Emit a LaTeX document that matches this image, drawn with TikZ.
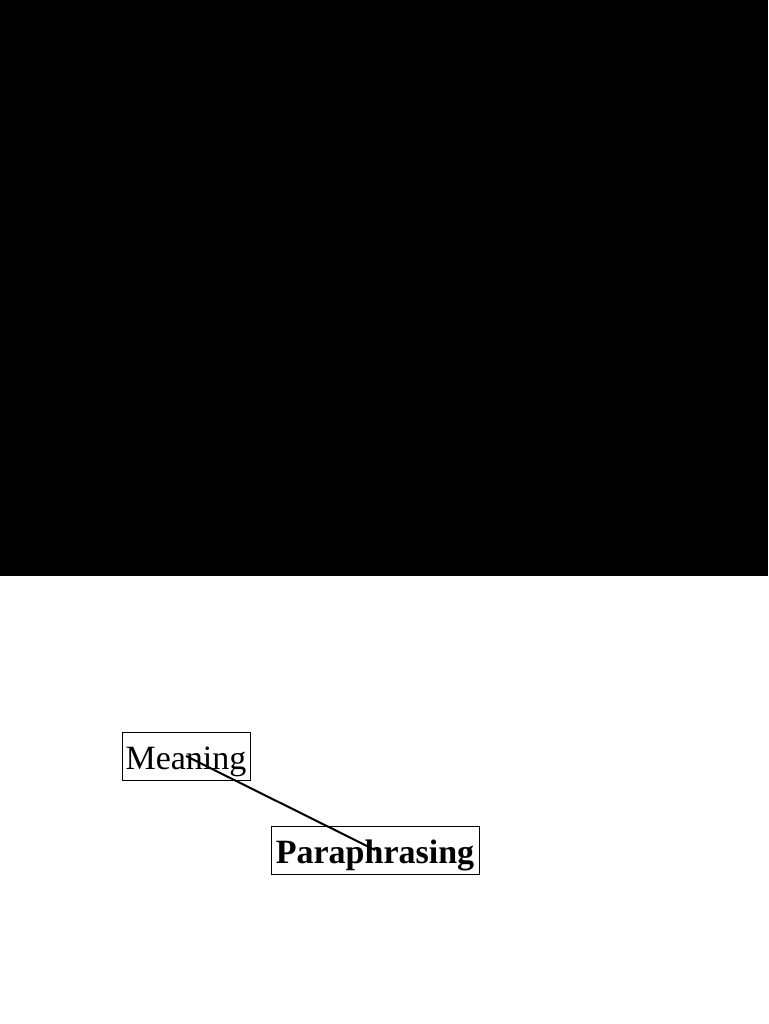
\documentclass[tikz,border=0pt]{standalone}
\usepackage{fontspec}
\setmainfont{Liberation Serif}
\begin{document}
\begin{tikzpicture}[x=1pt,y=1pt,
  box/.style={draw=black,line width=0.9pt,inner sep=0pt,minimum height=48pt,font=\fontsize{34}{40}\selectfont,text height=30pt,text depth=2pt},
  link/.style={draw=black,line width=2pt}]
\useasboundingbox (0,0) rectangle (768,1024);
\fill[black] (0,448) rectangle (768,1024);
\node[box,minimum width=128pt] (m) at (186,268) {Meaning};
\node[box,minimum width=208pt,font=\fontsize{34}{40}\selectfont\bfseries] (p) at (375,174) {Paraphrasing};
\draw[link] (m.center) -- (p.center);
\end{tikzpicture}
\end{document}
